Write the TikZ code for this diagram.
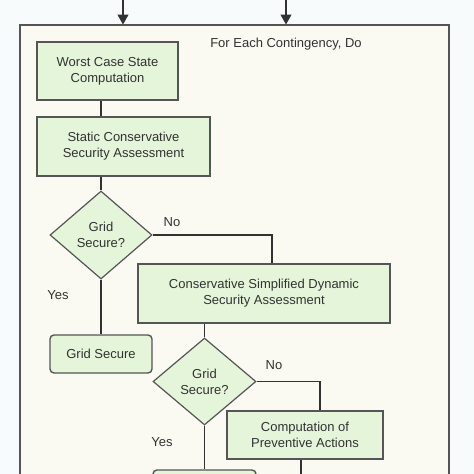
\documentclass[tikz,border=0pt]{standalone}
\usepackage{fontspec}
\setmainfont{Liberation Sans}
\usetikzlibrary{shapes.geometric,arrows.meta}
\definecolor{boxgreen}{RGB}{228,245,218}
\definecolor{cream}{RGB}{250,250,243}
\definecolor{bgc}{RGB}{247,251,251}
\definecolor{edge}{RGB}{85,85,85}
\definecolor{txt}{RGB}{50,50,50}
\begin{document}
\begin{tikzpicture}[x=1pt,y=-1pt,
  every node/.style={font=\fontsize{13}{16}\selectfont, text=txt},
  procbox/.style={draw=edge, line width=1.4pt, fill=boxgreen, inner sep=0pt, align=center},
  decide/.style={diamond, draw=edge, line width=1.2pt, fill=boxgreen, inner sep=0pt, align=center},
  endbox/.style={procbox, rounded corners=4pt},
  link/.style={draw=txt, line width=1.2pt},
  lbl/.style={inner sep=0pt}]
\useasboundingbox (0,0) rectangle (474,474);
\clip (0,0) rectangle (474,474);
\fill[bgc] (0,0) rectangle (474,474);
\draw[draw=edge, line width=1.5pt, fill=cream] (20,25) rectangle (449,520);

% incoming arrows
\coordinate (s1) at (123,-5);
\coordinate (e1) at (123,24.5);
\coordinate (s2) at (286,-5);
\coordinate (e2) at (286,24.5);
\draw[link, -{Triangle[width=11pt,length=10pt]}] (s1) -- (e1);
\draw[link, -{Triangle[width=11pt,length=10pt]}] (s2) -- (e2);

\node[lbl] (title) at (286,44) {For Each Contingency, Do};

\node[procbox, minimum width=141pt, minimum height=58pt] (b1) at (107.5,71) {Worst Case State\\Computation};
\node[procbox, minimum width=173pt, minimum height=59pt] (b2) at (123.5,146.5) {Static Conservative\\Security Assessment};
\node[decide, minimum width=102pt, minimum height=88pt] (d1) at (101,235) {Grid\\Secure?};
\node[procbox, minimum width=252pt, minimum height=59pt] (b3) at (264,293.5) {Conservative Simplified Dynamic\\Security Assessment};
\node[endbox, minimum width=102pt, minimum height=38pt] (g1) at (101,354) {Grid Secure};
\node[decide, minimum width=103pt, minimum height=87pt] (d2) at (204.5,381.5) {Grid\\Secure?};
\node[procbox, minimum width=156pt, minimum height=48pt] (b4) at (305,435) {Computation of\\Preventive Actions};
\node[endbox, minimum width=103pt, minimum height=40pt] (g2) at (204.5,490) {};

\coordinate (n1) at (272,235);
\coordinate (n2) at (320,381.5);
\coordinate (out) at (301,480);

\draw[link] (d1 |- b1.south) -- (d1 |- b2.north);
\draw[link] (d1 |- b2.south) -- (d1.north);
\draw[link] (d1.east) -- (n1) -- (n1 |- b3.north);
\draw[link] (d1.south) -- (g1.north);
\draw[link] (d2 |- b3.south) -- (d2.north);
\draw[link] (d2.east) -- (n2) -- (n2 |- b4.north);
\draw[link] (d2.south) -- (g2.north);
\draw[link] (out |- b4.south) -- (out);

\node[lbl] (no1) at (172,222) {No};
\node[lbl] (yes1) at (58,295) {Yes};
\node[lbl] (no2) at (274,365) {No};
\node[lbl] (yes2) at (162,442) {Yes};
\end{tikzpicture}
\end{document}
